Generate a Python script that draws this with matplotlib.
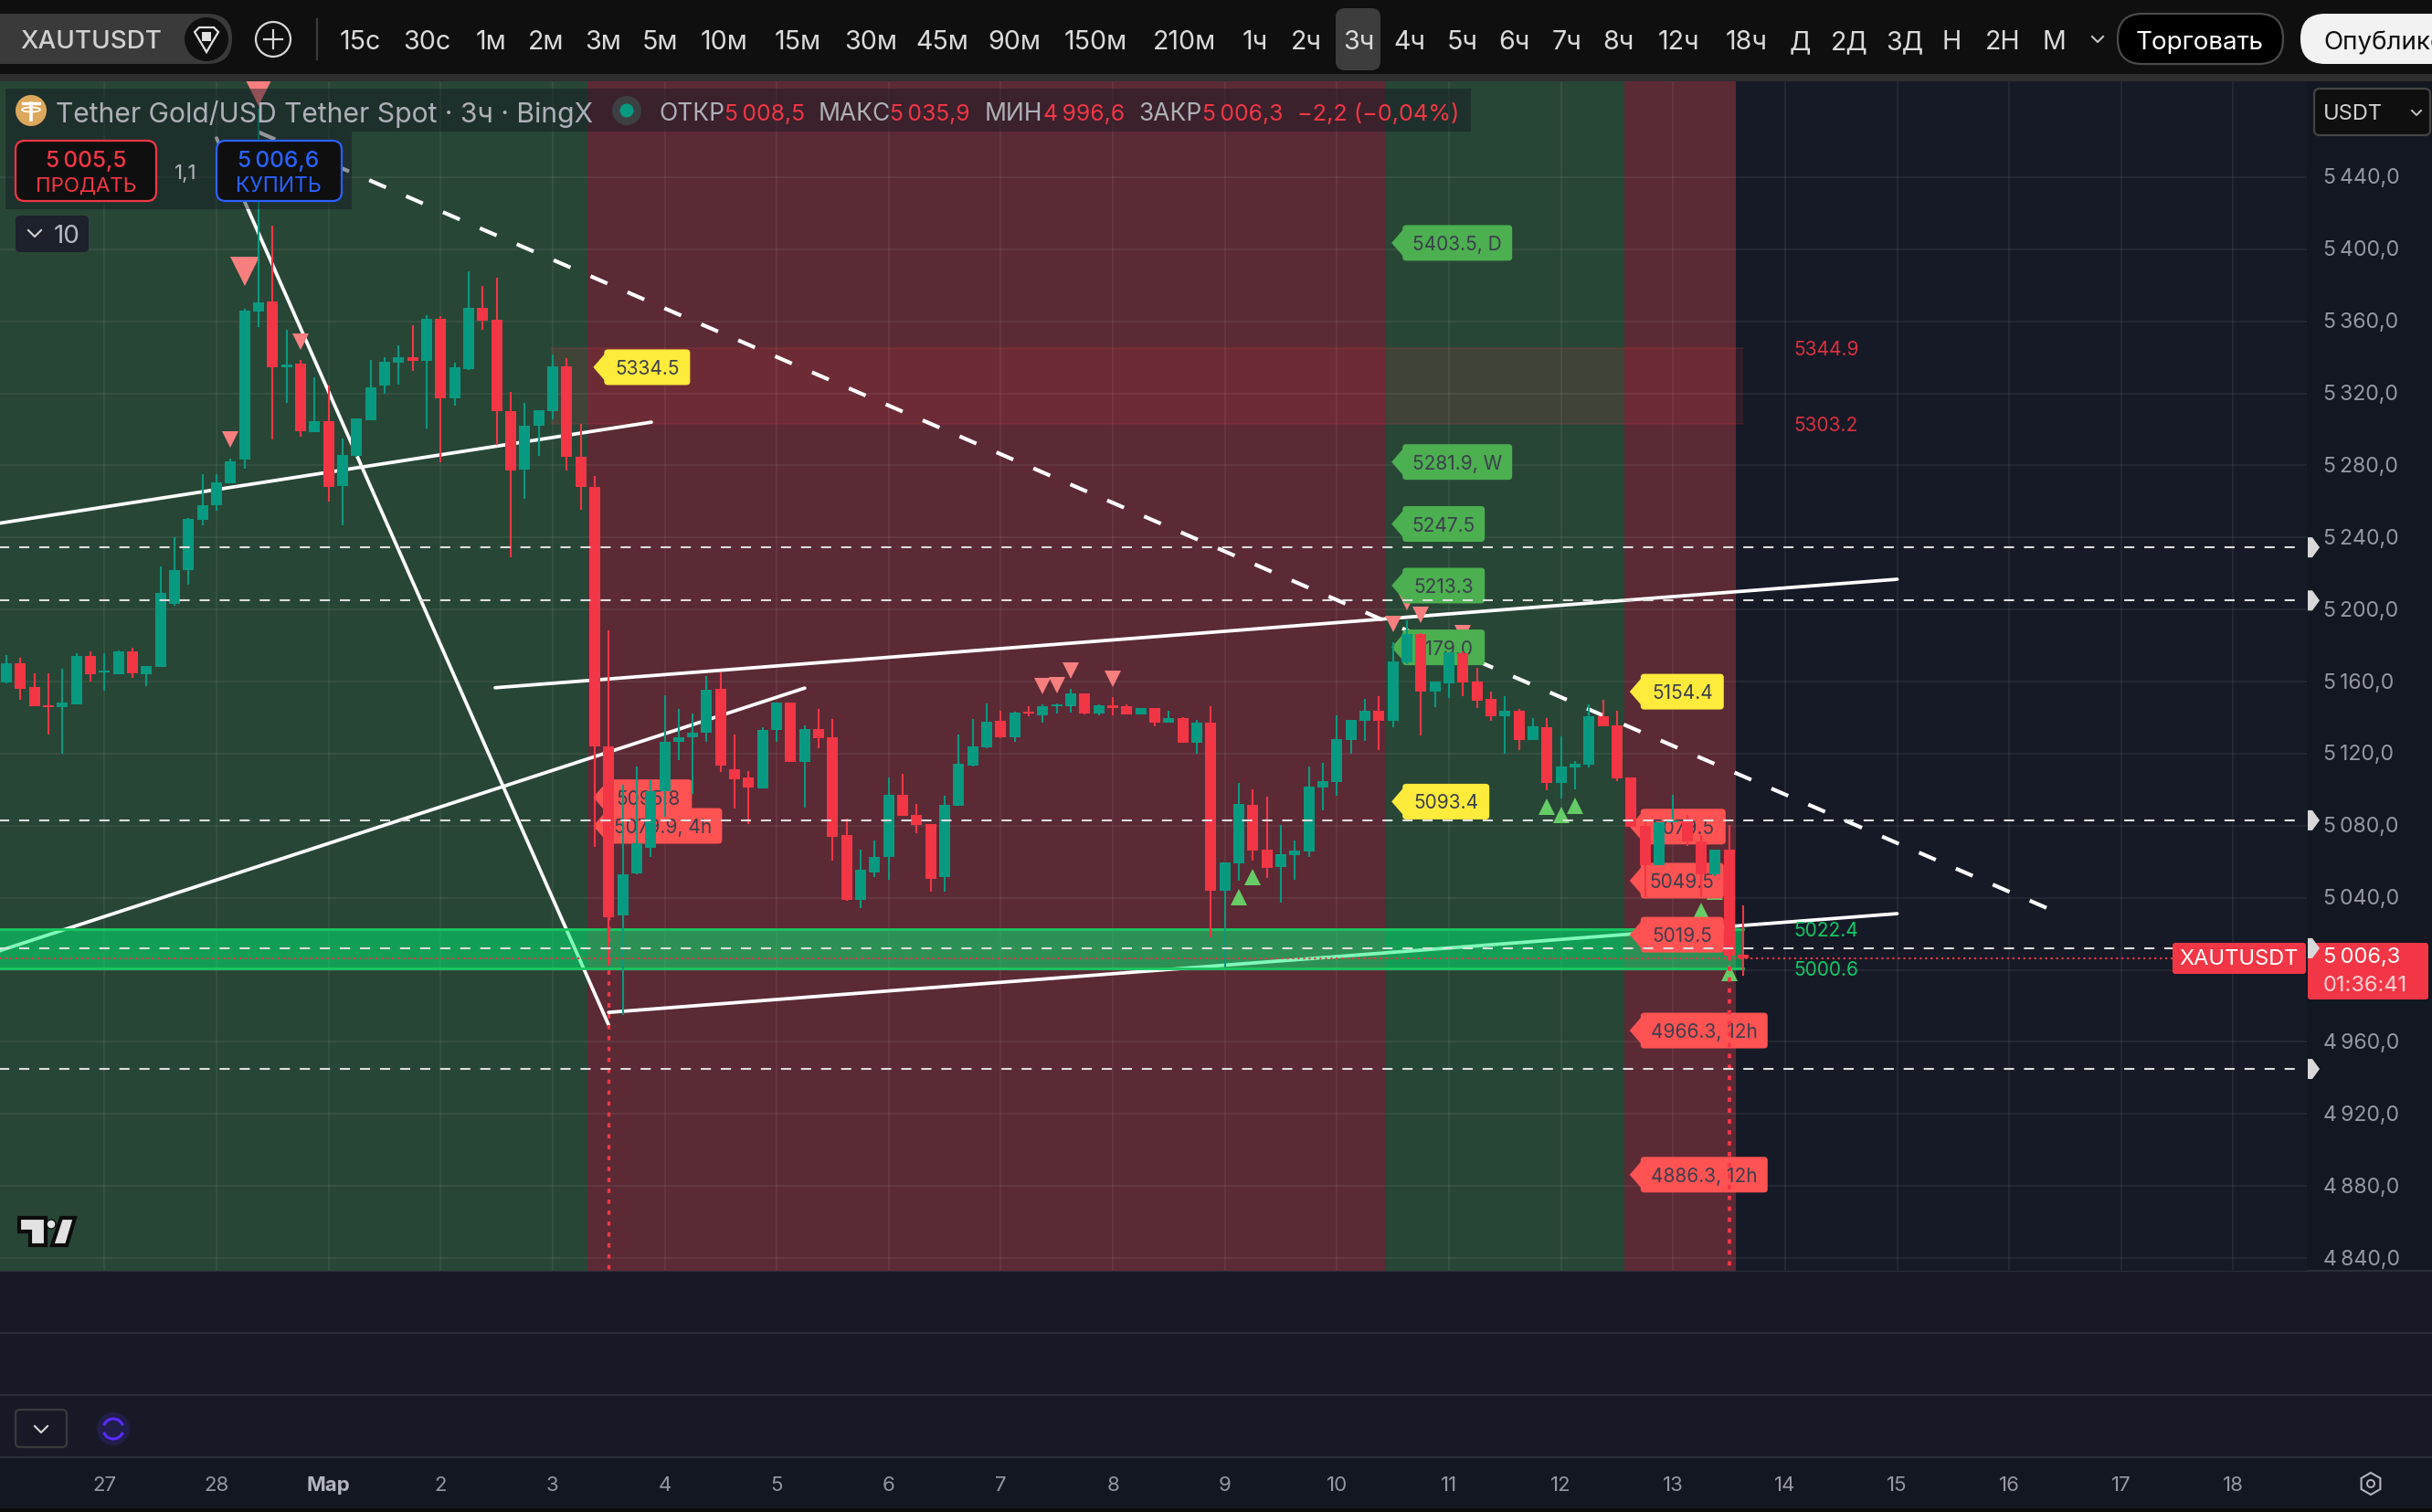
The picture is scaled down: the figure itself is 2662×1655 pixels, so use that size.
import matplotlib
matplotlib.use('Agg')
import matplotlib.pyplot as plt
from matplotlib.patches import FancyBboxPatch, Polygon, Circle, Rectangle, RegularPolygon, Arc
from matplotlib.transforms import ScaledTranslation

plt.rcParams['font.family'] = ['Inter', 'DejaVu Sans']
plt.rcParams['lines.scale_dashes'] = False

# 3h candles, bar 7 is the 27th at 00:00
opens = [5159.5,5170,5156.8,5146.8,5145.8,5147.5,5174,5165,5164.2,5176.8,5164.2,5168.3,5203,5221.8,5249.7,5258.1,5270,5283.4,5365.6,5370.8,
         5334.4,5336.4,5298.6,5304.5,5268.3,5285.2,5305,5324.4,5337,5340,5337.8,5361.3,5317,5333.4,5367.4,5360.8,5310.1,5277.8,5302,5310.1,
         5335,5284.8,5267.8,5123.9,5030,5053.4,5067.6,5099.4,5126.4,5129.3,5131.8,5156,5111.2,5106.8,5100.9,5133.1,5148.4,5115.4,5133.7,5129,
         5074.7,5039,5054.2,5062.8,5097.2,5086,5081,5051.5,5091.2,5113.4,5123.5,5138.2,5129,5143,5141.3,5146.5,5146.3,5153.3,5142.3,5146.7,
         5146.3,5141.9,5145.3,5137.2,5139.7,5126.2,5137.2,5044.1,5059.3,5091.6,5066.7,5057.1,5063.9,5065.7,5101.4,5104.4,5127.6,5138.3,5143.9,5138.3,
         5170.7,5186.4,5154.2,5159,5176,5160.1,5150.4,5140.8,5143.9,5127.6,5134.7,5103.8,5112.4,5113.9,5140.8,5135.7,5106.8,5080,5058.3,5081.7,
         5082.2,5071.5,5053,5066.8,5008.5]
highs = [5174.6,5173.2,5164.4,5164.4,5167,5175.7,5176.6,5175.7,5177.4,5179,5168.6,5224.1,5240.4,5250.8,5275,5275,5284,5366.7,5478,5412.9,
         5355.4,5338.4,5328.7,5324.2,5295,5306,5338.4,5340.2,5346.4,5357.7,5363.3,5362.7,5336.8,5387.6,5379.6,5384.2,5321,5314.7,5310.6,5341.8,
         5339.6,5302.9,5273.9,5188.4,5102.7,5112.9,5105.3,5152.4,5145,5142.4,5163,5165.3,5130.6,5110.3,5134.5,5148.4,5148.4,5135.7,5145,5139,
         5083.8,5066.7,5072,5107,5108.6,5092,5081,5096.6,5130.6,5139,5147.9,5144,5143.3,5146.3,5147.5,5148,5156,5153.3,5147.2,5151.4,
         5147.3,5145.3,5145.3,5143.6,5140.2,5138.6,5146.3,5059.6,5103.6,5100.2,5096,5080.3,5071.8,5112.9,5114.9,5141.3,5138.7,5150.4,5151.8,5181.9,
         5194,5187,5160.1,5176.3,5176.8,5167.7,5154.3,5151.8,5145,5140,5140,5129.8,5116,5147.6,5150.1,5143.9,5106.8,5083.3,5081.7,5096.9,
         5086.2,5074.9,5066.8,5080.5,5035.9]
lows = [5159,5150,5146.5,5130.8,5120,5147.5,5160,5155,5164,5161.9,5157.7,5168.3,5202.1,5213.9,5246.7,5254.7,5270,5278.4,5356.6,5294.3,
        5314.7,5296.1,5298.6,5259.9,5246.7,5285,5305,5319.9,5324.8,5332.3,5300.6,5281.8,5313.1,5333,5355.4,5291.6,5229.1,5261.5,5285.2,5305.6,
        5277.3,5255.3,5068,5002.2,4975.1,5052.9,5062.5,5085,5116.2,5097.7,5126.7,5110,5089.7,5081.1,5100.9,5126.4,5115.4,5090,5123,5060.5,
        5038.2,5034.3,5051.5,5050,5085.5,5076,5043.6,5043.6,5091,5113,5123,5128.6,5126.7,5140.8,5137.4,5142.1,5143,5142,5141.3,5141.3,
        5141.9,5141.9,5135.2,5137.2,5126.2,5120.1,5018.2,5001.3,5049.5,5060.5,5050.8,5037.5,5050,5062.8,5088.7,5096.8,5120.1,5127.2,5122.2,5134.9,
        5169.5,5130.3,5145.9,5150.9,5152.1,5145.5,5138.3,5120,5122.2,5127.6,5099.9,5095.2,5100.2,5112.6,5135.2,5104.8,5079.6,5040.3,5058.3,5081.7,
        5069,5040.6,5052,5005,4996.6]
closes = [5170,5156,5146.5,5146,5148.2,5174,5164.2,5166,5176.8,5164.8,5168.6,5209.4,5221.8,5250.1,5258.1,5270.5,5282.3,5365.8,5370.4,5334.6,
          5336.2,5298.8,5304.5,5267.8,5285.7,5306,5323.3,5337.5,5340,5337.8,5361.3,5317,5334.4,5367.4,5360.4,5310.1,5277.3,5301.8,5310.6,5335,
          5284.8,5267.8,5123.9,5029.2,5052.9,5070.3,5099.4,5126.4,5128.9,5131.5,5155.5,5113.4,5105.8,5101.4,5133.1,5148.4,5115.4,5133.7,5128.4,5074,
          5038.8,5055.4,5062.7,5097.2,5085.5,5080.4,5050.7,5091.6,5114.4,5124,5137.7,5129,5142.8,5142.3,5146.3,5147.3,5153.4,5142.3,5146.7,5145.5,
          5141.9,5145.3,5137.2,5139.6,5126.2,5137.2,5044.1,5059.6,5092.1,5066.4,5056.6,5064.2,5066.2,5101.7,5104.8,5128.1,5138.7,5143.8,5138.3,5171.2,
          5186.4,5154.5,5160.1,5176.3,5159.6,5149.4,5140.8,5143.9,5127.6,5135.2,5103.8,5112.9,5114.6,5140.8,5135.2,5106.2,5079.6,5058,5081.7,5082.8,
          5071.5,5053,5066.8,5008.1,5006.3]

day_labels = ['27','28','Мар','2','3','4','5','6','7','8','9','10','11','12','13','14','15','16','17','18']
price_ticks = list(range(4840, 5480, 40))
level_prices = [5234.5, 5205, 5083, 5012, 4945]
last_price = 5006.3

# session backgrounds (first bar edge, last bar edge, colour)
session_edges = [-1, 41.5, 98.5, 115.5, 123.5]
session_colors = ['#284636', '#5b2a35', '#284636', '#5b2a35']

red_zone = (5303.2, 5344.9)
green_zone = (5000.6, 5022.4)

# trend lines: bar, price, bar, price
solid_lines = [(-1, 5247.3, 46.05, 5304),
               (15, 5461.7, 43, 4969.4),
               (-1, 5009.3, 57, 5156.4),
               (34.9, 5156.6, 135, 5216.8),
               (43, 4976.4, 135, 5031.2)]
dashed_line = (18, 5465, 147, 5029.9)

down_bars = [16, 17, 18, 21, 74, 75, 76, 79, 99, 100, 101, 104]
down_prices = [5294.3, 5387.7, 5486.6, 5348.6, 5157.5, 5158, 5166.1, 5161.5, 5192, 5204.1, 5197, 5186.9]
down_sizes = [13, 23, 20, 13, 13, 13, 13, 13, 13, 13, 13, 13]
up_bars = [88, 89, 110, 111, 112, 121, 122, 123]
up_prices = [5040.6, 5051.3, 5090.8, 5086.2, 5091.3, 5032.5, 5043.4, 4998.5]

# pin labels: bar, price, text, box width in px
green_pins = [(99, 5403.5, '5403.5, D', 120), (99, 5281.9, '5281.9, W', 120), (99, 5247.5, '5247.5', 90),
              (99, 5213.3, '5213.3', 90), (99, 5179.0, '5179.0', 90)]
yellow_pins = [(42, 5334.5, '5334.5', 94), (116, 5154.4, '5154.4', 91), (99, 5093.4, '5093.4', 95)]
red_pins = [(42, 5095.8, '5095.8', 96), (42, 5079.9, '5079.9, 4h', 129), (116, 5079.5, '5079.5', 93),
            (116, 5049.5, '5049.5', 91), (116, 5019.5, '5019.5', 91), (116, 4966.3, '4966.3, 12h', 139),
            (116, 4886.3, '4886.3, 12h', 139)]

timeframes = ['15с','30с','1м','2м','3м','5м','10м','15м','30м','45м','90м','150м','210м','1ч','2ч','3ч','4ч','5ч','6ч','7ч','8ч','12ч','18ч','Д','2Д','3Д','Н','2Н','М']
timeframe_x = [394,467,537,598,660,722,793,873,953,1031,1110,1199,1296,1374,1430,1487,1543,1601,1657,1715,1771,1837,1912,1970,2024,2085,2136,2192,2248]

W, H = 2662, 1656
BAR = 15.33
fig = plt.figure(figsize=(W / 100, H / 100), dpi=100, facecolor='#131722')

def full_axes(z):
    a = fig.add_axes([0, 0, 1, 1], zorder=z)
    a.set_xlim(0, W)
    a.set_ylim(H, 0)
    a.axis('off')
    a.patch.set_alpha(0)
    return a

bg = full_axes(0)
ui = full_axes(3)

# main chart, 0..2525 px wide, 90..1392 px high
ax = fig.add_axes([0, (H - 1392) / H, 2525 / W, (1392 - 90) / H], zorder=1)
ax.set_facecolor('#161a26')
ax.set_xlim(-7 / BAR, (2525 - 7) / BAR)
ax.set_ylim(5040 + (983.7 - 1392) / 1.972, 5040 + (983.7 - 90) / 1.972)
for s in ax.spines.values():
    s.set_visible(False)

def topx(bar, price):
    # chart data to overlay pixels
    d = ax.transData.transform((bar, price))
    return ui.transData.inverted().transform(d)

def rrect(a, x0, y0, x1, y1, r, fc, ec='none', lw=0, z=2, alpha=None):
    p = FancyBboxPatch((x0 + r, y0 + r), x1 - x0 - 2 * r, y1 - y0 - 2 * r, boxstyle='round,pad=%f,rounding_size=%f' % (r, r),
                       fc=fc, ec=ec, lw=lw, zorder=z, alpha=alpha, transform=ui.transData)
    a.add_patch(p)
    return p

# bottom panels
bg.add_patch(Rectangle((0, 1392), W, 204, fc='#171a26', ec='none'))
bg.add_patch(Rectangle((0, 1596), W, 56, fc='#131722', ec='none'))
bg.add_patch(Rectangle((0, 1652), W, 4, fc='#0c0c0c', ec='none'))
for y in [1392, 1460, 1528, 1596]:
    bg.plot([0, W], [y, y], color='#2a2d37', lw=1.6)

# sessions
for i in range(len(session_colors)):
    ax.axvspan(session_edges[i], session_edges[i + 1], color=session_colors[i], lw=0, zorder=0.1)
ax.fill_between([38.9, 124], red_zone[0], red_zone[1], color='#f23645', alpha=0.12, lw=0, zorder=0.2)
for p in red_zone:
    ax.plot([38.9, 124], [p, p], color='#f23645', alpha=0.12, lw=1.5, zorder=0.2)

# grid and axis labels, 5 000,0 sits behind the price tag so it stays blank
ax.set_axisbelow(True)
ax.grid(True, color='white', alpha=0.06, lw=1.4)
day_bars = [7 + 8 * k for k in range(len(day_labels))]
ax.set_xticks(day_bars)
ax.set_xticklabels(day_labels, color='#9598a1', fontsize=16)
ax.get_xticklabels()[2].set_fontweight('bold')
ax.get_xticklabels()[2].set_color('#b2b5be')
ax.set_yticks(price_ticks)
ax.set_yticklabels(['' if p == 5000 else '%d\u2009%03d,0' % (p // 1000, p % 1000) for p in price_ticks], color='#9598a1', fontsize=16.6)
ax.yaxis.tick_right()
ax.tick_params(axis='both', length=0)
ax.tick_params(axis='x', pad=161)
ax.tick_params(axis='y', pad=13)
for lab in ax.get_yticklabels():
    lab.set_transform(lab.get_transform() + ScaledTranslation(0, 2 / 100, fig.dpi_scale_trans))

# trend lines under the green zone
for x0, p0, x1, p1 in solid_lines:
    ax.plot([x0, x1], [p0, p1], color='white', lw=2.7, zorder=2, solid_capstyle='round')
ax.plot(dashed_line[0::2], dashed_line[1::2], color='white', lw=3, zorder=2, ls=(0, (14.4, 17.3)))

ax.fill_between([-1, 124], green_zone[0], green_zone[1], color='#00f674', alpha=0.5, lw=0, zorder=2.5)
for p in green_zone:
    ax.plot([-1, 124], [p, p], color='#18c862', lw=2, zorder=2.6)

for b, p, s in zip(down_bars, down_prices, down_sizes):
    ax.plot([b], [p], marker='v', ms=s, color='#f77f7f', mew=0, zorder=2.7, ls='none')
ax.plot(up_bars, up_prices, marker='^', ms=13.5, color='#66cc66', mew=0, zorder=2.7, ls='none')

def pin(bar, price, text, color, width, z=3):
    x, y = topx(bar, price)
    tip = x - 1.5
    ax.add_patch(Polygon([(tip, y), (tip + 13, y - 15), (tip + 13, y + 15)], closed=True, fc=color, ec='none',
                         zorder=z, transform=ui.transData))
    rrect(ax, tip + 12, y - 19.5, tip + 12 + width, y + 19.5, 4, color, z=z)
    ax.text(tip + 12 + width / 2, y + 1, text, transform=ui.transData, ha='center', va='center', color='#3c3f4d',
            fontsize=15, zorder=z + 0.01)

for b, p, t, w in green_pins:
    pin(b, p, t, '#4caf50', w)
for b, p, t, w in yellow_pins:
    pin(b, p, t, '#ffeb3b', w)
for b, p, t, w in red_pins:
    pin(b, p, t, '#ff5252', w)

# candles
bars = list(range(len(opens)))
candle_colors = ['#089981' if c >= o else '#f23645' for o, c in zip(opens, closes)]
ax.vlines(bars, lows, highs, colors=candle_colors, lw=1.5, zorder=4)
ax.bar(bars, [max(abs(c - o), 1.0) for o, c in zip(opens, closes)], bottom=[min(o, c) for o, c in zip(opens, closes)],
       width=12 / BAR, color=candle_colors, lw=0, zorder=4.1)

# horizontal levels and last price
for p in level_prices:
    ax.plot([-1, 164], [p, p], color='#dedede', lw=1.5, zorder=6, ls=(0, (8, 7.8)))
ax.plot([-1, 155], [last_price, last_price], color='#f23645', lw=1.5, zorder=6, ls=(0, (1.6, 2.7)))
ax.plot([43, 43], [5030, 4830], color='#f23645', lw=2.4, zorder=3.5, ls=(0, (3.4, 5.2)))
ax.plot([123, 123], [5008, 4830], color='#f23645', lw=2.8, zorder=3.5, ls=(0, (3.4, 5.2)))

# small zone values right of the last bar
for p, t, c in [(5344.9, '5344.9', '#d9303f'), (5303.2, '5303.2', '#d9303f'), (5022.4, '5022.4', '#12c868'), (5000.6, '5000.6', '#12c868')]:
    x, y = topx(0, p)
    ax.text(1963, y + 1, t, transform=ui.transData, ha='left', va='center', color=c, fontsize=15, zorder=7)

# level arrows on the price scale
for p in level_prices:
    x, y = topx(0, p)
    ui.add_patch(Polygon([(2526, y - 11), (2531, y - 11), (2539, y), (2531, y + 11), (2526, y + 11)], closed=True, fc='#d8d8d8', ec='none', zorder=6))

# price tags
rrect(ui, 2378, 1033, 2524, 1067, 3, '#f23645', z=5)
ui.text(2451, 1050, 'XAUTUSDT', color='white', ha='center', va='center', fontsize=17, zorder=6)
rrect(ui, 2526, 1033, 2658, 1095, 3, '#f23645', z=5)
ui.text(2543, 1048, '5\u2009006,3', color='white', ha='left', va='center', fontsize=17, zorder=6)
ui.text(2543, 1079, '01:36:41', color='#ffd0d4', ha='left', va='center', fontsize=17, zorder=6)

# top toolbar
ui.add_patch(Rectangle((0, 0), W, 82, fc='#0f0f0f', ec='none', zorder=1))
ui.add_patch(Rectangle((0, 82), W, 8, fc='#2e2e2e', ec='none', zorder=1))
rrect(ui, -30, 16, 254, 71, 27, '#3a3a3a', z=2)
ui.text(22, 46, 'XAUTUSDT', color='#d1d1d1', ha='left', va='center', fontsize=20, fontweight='medium', zorder=3)
ui.add_patch(Circle((226, 44), 24, fc='#0f0f0f', ec='none', zorder=3))
ui.add_patch(Polygon([(213, 36), (218, 31), (234, 31), (239, 36), (226, 58)], closed=True, fc='none', ec='#e0e0e0', lw=1.6, zorder=4))
ui.add_patch(Rectangle((221, 36), 10, 10, fc='#e0e0e0', ec='none', zorder=4))
ui.add_patch(Circle((299, 44), 19, fc='none', ec='#d8d8d8', lw=1.6, zorder=3))
ui.plot([289, 309], [44, 44], color='#d8d8d8', lw=1.6, zorder=3)
ui.plot([299, 299], [34, 54], color='#d8d8d8', lw=1.6, zorder=3)
ui.plot([347, 347], [22, 66], color='#3a3a3a', lw=1.6, zorder=3)
rrect(ui, 1462, 10, 1511, 78, 10, '#3d3d3d', z=2)
for t, x in zip(timeframes, timeframe_x):
    ui.text(x, 47, t, color='#dbdbdb', ha='center', va='center', fontsize=20.6, zorder=3)
ui.plot([2290, 2296, 2302], [41, 47, 41], color='#c8c8c8', lw=1.5, zorder=3)
rrect(ui, 2318, 16, 2499, 71, 27, '#000000', '#4a4a4a', 1.6, z=2)
ui.text(2408, 47, 'Торговать', color='white', ha='center', va='center', fontsize=20, zorder=3)
rrect(ui, 2518, 16, 2720, 71, 27, '#f2f2f2', z=2)
ui.text(2543, 47, 'Опублико', color='#0f0f0f', ha='left', va='center', fontsize=20, zorder=3)

# currency box
rrect(ui, 2533, 98, 2660, 149, 6, '#0f0f0f', '#444444', 1.6, z=3)
ui.text(2543, 125, 'USDT', color='#d1d1d1', ha='left', va='center', fontsize=17, zorder=4)
ui.plot([2640, 2645, 2650], [122, 127, 122], color='#c8c8c8', lw=1.4, zorder=4)

# legend overlay
ui.add_patch(Rectangle((6, 98), 1604, 47, fc='#131722', alpha=0.45, ec='none', zorder=2))
ui.add_patch(Rectangle((6, 145), 379, 85, fc='#131722', alpha=0.45, ec='none', zorder=2))
ui.add_patch(Circle((34, 122), 17, fc='#dca85c', ec='none', zorder=3))
ui.plot([25, 43], [114, 114], color='white', lw=2.4, zorder=4)
ui.plot([34, 34], [114, 132], color='white', lw=2.6, zorder=4)
ui.add_patch(Arc((34, 121), 20, 5, fc='none', ec='white', lw=1.2, zorder=4))
ui.text(61, 125, 'Tether Gold/USD Tether Spot · 3ч · BingX', color='#aeb0b8', ha='left', va='center', fontsize=21.6, zorder=3)
ui.add_patch(Circle((686, 122), 16, fc='#3d4043', ec='none', zorder=3))
ui.add_patch(Circle((686, 122), 7.5, fc='#089981', ec='none', zorder=4))
for x, t, c, fs in [(721, 'ОТКР', '#aeb0b8', 19), (793, '5\u2009008,5', '#f23645', 17.8), (896, 'МАКС', '#aeb0b8', 19), (974, '5\u2009035,9', '#f23645', 17.8),
                    (1078, 'МИН', '#aeb0b8', 19), (1142, '4\u2009996,6', '#f23645', 17.8), (1246, 'ЗАКР', '#aeb0b8', 19), (1316, '5\u2009006,3', '#f23645', 17.8),
                    (1420, '\u22122,2 (\u22120,04%)', '#f23645', 18.2)]:
    ui.text(x, 125, t, color=c, ha='left', va='center', fontsize=fs, zorder=3)

# buy / sell buttons
rrect(ui, 17, 155, 171, 221, 10, '#0f0f0f', '#f23645', 1.6, z=3)
ui.text(94, 177, '5\u2009005,5', color='#f23645', ha='center', va='center', fontsize=17.6, fontweight='medium', zorder=4)
ui.text(94, 204, 'ПРОДАТЬ', color='#f23645', ha='center', va='center', fontsize=16, zorder=4)
ui.text(203, 190, '1,1', color='#b0b3bb', ha='center', va='center', fontsize=16, zorder=4)
rrect(ui, 237, 155, 374, 221, 10, '#0f0f0f', '#2962ff', 1.6, z=3)
ui.text(305, 177, '5\u2009006,6', color='#2962ff', ha='center', va='center', fontsize=17.6, fontweight='medium', zorder=4)
ui.text(305, 204, 'КУПИТЬ', color='#2962ff', ha='center', va='center', fontsize=16.5, zorder=4)
rrect(ui, 17, 237, 97, 277, 5, '#1c212b', z=3)
ui.plot([31, 38, 45], [253, 260, 253], color='#d1d1d1', lw=1.5, zorder=4)
ui.text(73, 259, '10', color='#b8bac2', ha='center', va='center', fontsize=20, zorder=4)

# tradingview mark
for a_patch in [Polygon([(21, 1334), (50, 1334), (50, 1364), (33, 1364), (33, 1349), (21, 1349)], closed=True),
                Polygon([(67, 1334), (82, 1334), (73, 1364), (57, 1364)], closed=True)]:
    a_patch.set(fc='#e2e2e2', ec='#0c0c0c', lw=3, zorder=4, joinstyle='miter')
    ui.add_patch(a_patch)
ui.add_patch(Circle((56, 1341), 5, fc='#e2e2e2', ec='#0c0c0c', lw=1, zorder=4))

# bottom left controls
rrect(ui, 17, 1544, 73, 1585, 5, 'none', '#3a3a3a', 1.6, z=3)
ui.plot([38, 45, 52], [1562, 1569, 1562], color='#d8d8d8', lw=1.5, zorder=4)
ui.add_patch(Circle((124, 1565), 18, fc='#201e4a', ec='none', zorder=3))
ui.add_patch(Arc((124, 1565), 22, 22, theta1=20, theta2=160, ec='#5a2bff', lw=2.2, zorder=4))
ui.add_patch(Arc((124, 1565), 22, 22, theta1=200, theta2=340, ec='#5a2bff', lw=2.2, zorder=4))

# gear
ui.add_patch(RegularPolygon((2595, 1625), 6, radius=12, fc='none', ec='#b2b5be', lw=1.5, zorder=4))
ui.add_patch(Circle((2595, 1625), 4, fc='none', ec='#b2b5be', lw=1.4, zorder=4))

fig.savefig('out.png', dpi=100, facecolor=fig.get_facecolor())
